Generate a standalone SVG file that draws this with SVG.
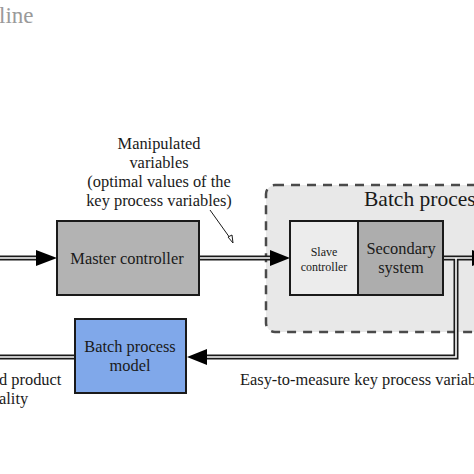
<svg xmlns="http://www.w3.org/2000/svg" width="474" height="474" viewBox="0 0 474 474">
<style>
text{font-family:"Liberation Serif","Times New Roman",serif;fill:#1a1a1a}
.box{stroke:#1a1a1a;stroke-width:2}
.dbl{fill:none;stroke:#1a1a1a;stroke-width:5}
.dbli{fill:none;stroke:#fff;stroke-width:1.6}
.head{fill:#000}
.t{font-size:16.4px}
</style>
<rect width="474" height="474" fill="#fff"/>
<text x="-1" y="23" font-size="23" style="fill:#9a9a9a">line</text>
<g id="batch-process">
<rect x="266" y="185" width="230" height="147" rx="9" fill="#e8e8e8" stroke="#4a4a4a" stroke-width="2.5" stroke-dasharray="9,7"/>
<text x="364" y="206" font-size="21.5">Batch process</text>
</g>
<g id="connectors">
<path class="dbl" d="M0 258H40M199 258H272M443 258H474M456 258V357H206M75 357H0"/>
<path class="dbli" d="M0 258H40M199 258H272M443 258H474M456 258V357H206M75 357H0"/>
<polygon class="head" points="36,250 57,258 36,266"/>
<polygon class="head" points="270,250 290,258 270,266"/>
<polygon class="head" points="472,250 492,258 472,266"/>
<polygon class="head" points="207,349 187,357 207,365"/>
<line x1="210" y1="210" x2="230" y2="238" stroke="#1a1a1a" stroke-width="1"/>
<polygon points="233,243 228,237 232,235" fill="#fff" stroke="#1a1a1a" stroke-width="1"/>
</g>
<g id="master-controller">
<rect class="box" x="57" y="221" width="142" height="74" fill="#b3b3b3"/>
<text class="t" x="127" y="264" text-anchor="middle">Master controller</text>
</g>
<g id="slave-controller">
<rect class="box" x="290" y="221" width="68" height="74" fill="#ececec"/>
<text x="324" y="256" font-size="12" text-anchor="middle">Slave</text>
<text x="324" y="271" font-size="12" text-anchor="middle">controller</text>
</g>
<g id="secondary-system">
<rect class="box" x="358" y="221" width="85" height="74" fill="#adadad"/>
<text class="t" x="401" y="254" text-anchor="middle">Secondary</text>
<text class="t" x="401" y="273" text-anchor="middle">system</text>
</g>
<g id="batch-process-model">
<rect class="box" x="75" y="319" width="111" height="74" fill="#80a8ea"/>
<text class="t" x="130" y="352" text-anchor="middle">Batch process</text>
<text class="t" x="130" y="371" text-anchor="middle">model</text>
</g>
<g id="labels">
<text class="t" x="159" y="149" text-anchor="middle">Manipulated</text>
<text class="t" x="159" y="168" text-anchor="middle">variables</text>
<text class="t" x="159" y="187" text-anchor="middle">(optimal values of the</text>
<text class="t" x="159" y="206" text-anchor="middle">key process variables)</text>
<text class="t" x="240" y="385" >Easy-to-measure key process variables</text>
<text class="t" x="-1" y="385">d product</text>
<text class="t" x="-1" y="404">ality</text>
</g>
</svg>
